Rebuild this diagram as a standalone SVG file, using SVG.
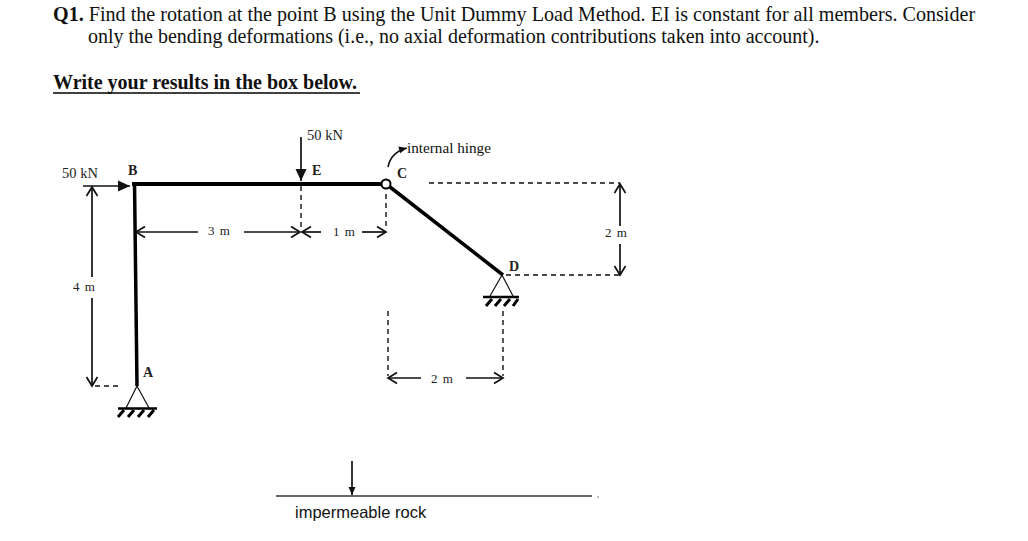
<svg xmlns="http://www.w3.org/2000/svg" width="1028" height="541" viewBox="0 0 1028 541">
<defs>
<marker id="open" markerUnits="userSpaceOnUse" markerWidth="14" markerHeight="14" refX="12" refY="7" orient="auto-start-reverse"><path d="M3 1.500L12 7L3 12.500" fill="none" stroke="#111" stroke-width="1.700"/></marker>
<marker id="solid" markerUnits="userSpaceOnUse" markerWidth="14" markerHeight="14" refX="13" refY="7" orient="auto"><path d="M1 1.500L13 7L1 12.500Z" fill="#111"/></marker>
<marker id="small" markerUnits="userSpaceOnUse" markerWidth="10" markerHeight="10" refX="9" refY="5" orient="auto"><path d="M1 1.500L9 5L1 8.500Z" fill="#111"/></marker>
</defs>
<style>
text{font-family:"Liberation Serif",serif;fill:#111}
.h{font-size:20px}
.s{font-size:14.500px;fill:#222}
.dim{font-size:13px;fill:#222;word-spacing:2px}
.b{font-size:14px;font-weight:bold;fill:#222}
.m{stroke:#000;stroke-width:4;fill:none}
.d{stroke:#111;stroke-width:1.400;stroke-dasharray:5 4;fill:none}
.l{stroke:#111;stroke-width:1.700;fill:none}
.t{stroke:#111;stroke-width:1.200;fill:none}
.g{stroke:#000;stroke-width:3;fill:none}
</style>
<rect width="1028" height="541" fill="#fff"/>
<g id="question">
<text class="h" x="53" y="20.500" style="font-size:20.130px"><tspan font-weight="bold">Q1.</tspan> Find the rotation at the point B using the Unit Dummy Load Method. EI is constant for all members. Consider</text>
<text class="h" x="88" y="43">only the bending deformations (i.e., no axial deformation contributions taken into account).</text>
<text class="h" x="53" y="89" font-weight="bold">Write your results in the box below.</text>
<line x1="53" y1="93" x2="360" y2="93" stroke="#000" stroke-width="1.500"/>
</g>
<g id="connectors">
<path class="m" d="M132 184H383"/>
<path class="m" d="M134.500 182L137 386" style="stroke-width:3.500"/>
<path class="m" d="M390 187L503 275" style="stroke-width:3.500"/>
<path class="l" d="M83 186H130" marker-end="url(#solid)"/>
<path class="l" d="M301 137V181" marker-end="url(#solid)"/>
<path class="l" d="M352 461V495" marker-end="url(#small)"/>
<path class="l" d="M388 167Q391 152 407 148" marker-end="url(#small)"/>
<path class="d" d="M301 186V228"/>
<path class="d" d="M386 194V230"/>
<path class="d" d="M429 183H620"/>
<path class="d" d="M506 275H620"/>
<path class="d" d="M95 386H118"/>
<path class="d" d="M388 311V376"/>
<path class="d" d="M503 311V376"/>
<path class="l" d="M92 187V277" marker-start="url(#open)"/>
<path class="l" d="M92 298V386" marker-end="url(#open)"/>
<path class="l" d="M136 232H198" marker-start="url(#open)"/>
<path class="l" d="M244 232H300" marker-end="url(#open)"/>
<path class="l" d="M302 232H321" marker-start="url(#open)"/>
<path class="l" d="M362 232H386" marker-end="url(#open)"/>
<path class="l" d="M620 184V226" marker-start="url(#open)"/>
<path class="l" d="M620 244V275" marker-end="url(#open)"/>
<path class="l" d="M388 378H421" marker-start="url(#open)"/>
<path class="l" d="M466 378H503" marker-end="url(#open)"/>
<line x1="276" y1="496" x2="592" y2="496" stroke="#333" stroke-width="1.500"/>
</g>
<g id="node-B"><text class="b" x="128" y="175">B</text><text class="s" x="62" y="178">50 kN</text></g>
<g id="node-E"><text class="b" x="312" y="175">E</text><text class="s" x="307" y="140">50 kN</text></g>
<g id="node-C">
<circle cx="386" cy="184" r="4.500" fill="#fff" stroke="#000" stroke-width="2"/>
<text class="b" x="397" y="178">C</text>
<text x="407" y="153" font-size="15.200px">internal hinge</text>
</g>
<g id="node-A">
<text class="b" x="143" y="377">A</text>
<path class="t" d="M137 386L126 408M137 386L149 408"/>
<path d="M118 408.500H157" stroke="#000" stroke-width="2.500" fill="none"/>
<path class="g" d="M118 417L124 410M128 417L134 410M138 417L144 410M148 417L154 410"/>
</g>
<g id="node-D">
<text class="b" x="509" y="271">D</text>
<path class="t" d="M502 275L490 296M502 275L513 296"/>
<path d="M483 297H519" stroke="#000" stroke-width="2.500" fill="none"/>
<path class="g" d="M486 306L492 299M495 306L501 299M504 306L510 299M513 306L518 299"/>
</g>
<g id="dimensions">
<text class="dim" x="208" y="235">3 m</text>
<text class="dim" x="333" y="236">1 m</text>
<text class="dim" x="605" y="237">2 m</text>
<text class="dim" x="73" y="291">4 m</text>
<text class="dim" x="431" y="383">2 m</text>
</g>
<g id="rock">
<text x="295" y="518" font-size="16.500px" style="font-family:'Liberation Sans',sans-serif">impermeable rock</text>
<circle cx="598" cy="497" r=".7" fill="#444"/>
</g>
</svg>
